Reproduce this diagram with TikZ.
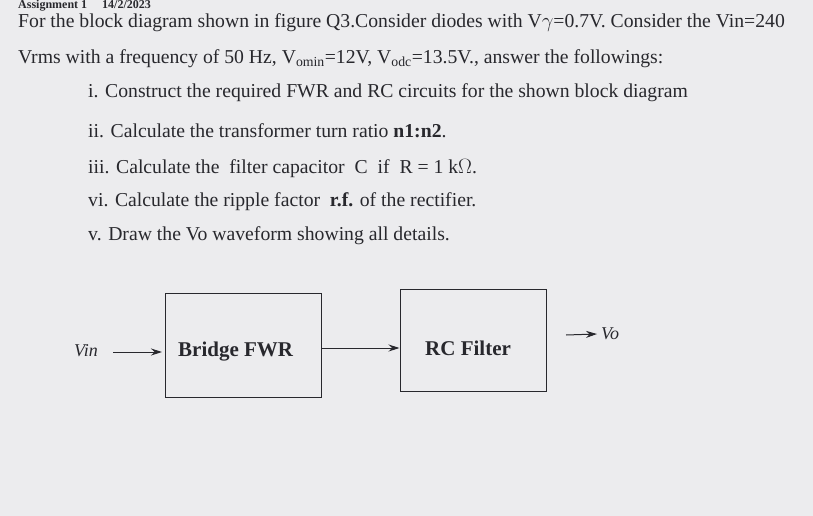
\documentclass[tikz,border=0pt]{standalone}
\usepackage{fontspec}
\setmainfont{Liberation Serif}
\usetikzlibrary{arrows.meta}
\definecolor{paper}{RGB}{236,236,238}
\definecolor{ink}{RGB}{40,40,45}
\begin{document}
\begin{tikzpicture}[x=1pt,y=-1pt,
  txt/.style={anchor=west,inner sep=0pt,text=ink,font=\fontsize{19.7}{21}\selectfont},
  blk/.style={draw=ink,line width=1pt,inner sep=0pt},
  arr/.style={draw=ink,line width=1pt,-{Stealth[length=11pt,width=7pt]}}]
\fill[paper] (0,0) rectangle (813,516);
\useasboundingbox (0,0) rectangle (813,516);
\node[txt,font=\bfseries\fontsize{12}{13}\selectfont] (h) at (18,6) {Assignment 1 \quad 14/2/2023};
\node[txt] (l1) at (18,23) {For the block diagram shown in figure Q3.Consider diodes with V$\gamma$=0.7V. Consider the Vin=240};
\node[txt] (l2) at (18,59) {Vrms with a frequency of 50 Hz, V\textsubscript{omin}=12V, V\textsubscript{odc}=13.5V., answer the followings:};
\node[txt] (q1) at (88,93) {i. Construct the required FWR and RC circuits for the shown block diagram};
\node[txt] (q2) at (88,131) {ii. Calculate the transformer turn ratio \textbf{n1:n2}.};
\node[txt] (q3) at (88,169) {iii. Calculate the \ filter capacitor \ C \ if \ R = 1 k$\Omega$.};
\node[txt] (q4) at (88,202) {vi. Calculate the ripple factor \ \textbf{r.f.} of the rectifier.};
\node[txt] (q5) at (88,236) {v. Draw the Vo waveform showing all details.};
\node[blk,minimum width=156pt,minimum height=104pt] (b1) at (243,345) {};
\node[txt,font=\bfseries\fontsize{21}{23}\selectfont] at (178,352) {Bridge FWR};
\node[blk,minimum width=146pt,minimum height=102pt] (b2) at (473,340) {};
\node[txt,font=\bfseries\fontsize{21}{23}\selectfont] at (425,348) {RC Filter};
\node[txt,font=\itshape\fontsize{18}{20}\selectfont] (vin) at (74,351) {Vin};
\coordinate (a1) at (113,352);
\coordinate (a2) at (162,352);
\draw[arr] (a1) -- (a2);
\draw[arr] (b1.east |- 0,348) -- (b2.west |- 0,348);
\coordinate (o1) at (566,335);
\node[txt,font=\itshape\fontsize{18}{20}\selectfont] (vo) at (601,334) {Vo};
\draw[arr] (o1) -- ([xshift=-4pt]vo.west);
\end{tikzpicture}
\end{document}
